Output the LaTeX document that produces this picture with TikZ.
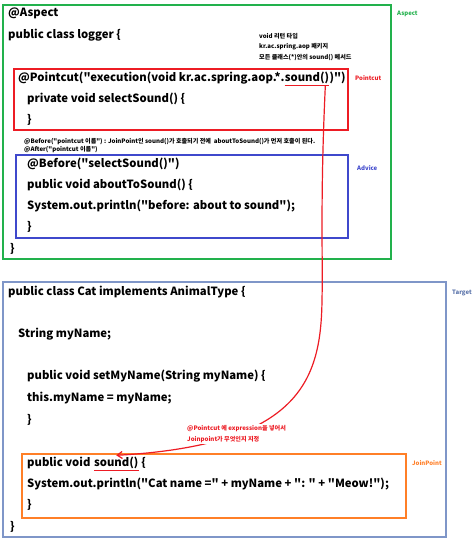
\documentclass[tikz,border=0pt]{standalone}
\usepackage{fontspec}
\usepackage{tikz}
\setmainfont{Noto Sans CJK KR}[Ligatures=TeXOff]
\usetikzlibrary{arrows.meta}
\definecolor{aopgreen}{RGB}{34, 177, 76}
\definecolor{aopred}{RGB}{237, 28, 36}
\definecolor{aopblue}{RGB}{63, 72, 204}
\definecolor{aopsteel}{RGB}{127, 150, 200}
\definecolor{aoptarget}{RGB}{90, 115, 170}
\definecolor{aoporange}{RGB}{255, 127, 39}
\tikzset{
  code/.style={anchor=west, inner sep=0pt, font=\fontsize{11.3}{13}\selectfont\bfseries},
  codenext/.style={code, anchor=base west},
  memo/.style={anchor=west, inner sep=0pt, font=\fontsize{6.1}{11}\selectfont\bfseries},
  tag/.style={anchor=west, inner sep=0pt, font=\fontsize{6}{7}\selectfont\bfseries},
  underl/.style={aopred, line width=0.9pt},
}

\begin{document}
\begin{tikzpicture}[x=1pt, y=-1pt]
\useasboundingbox[fill=white] (0,0) rectangle (474,541);

% Aspect class
\draw[aopgreen, line width=1.8pt] (3,5) rectangle (391,259);
\node[tag, aopgreen] (aspecttag) at (397,14) {Aspect};
\node[code] (aspect) at (8,13) {@Aspect};
\node[code] (logger) at (8,35) {public class logger \{};
\node[code] (logend) at (10,249) {\}};

% Notes on the expression
\node[memo] (noteret) at (259,36) {void 리턴 타입};
\node[memo] (notepkg) at (259,47) {kr.ac.spring.aop 패키지};
\node[memo] (notemeth) at (259,58) {모든 클래스(*)안의 sound() 메서드};

% Pointcut
\draw[aopred, line width=1.8pt] (14,69) rectangle (348,130);
\node[tag, aopred] (pointcuttag) at (355,78) {Pointcut};
\node[code] (pointcut) at (18,78) {@Pointcut("execution(void kr.ac.spring.aop.*.};
\node[codenext] (pcsound) at (pointcut.base east) {sound()};
\node[codenext] (pcrest) at (pcsound.base east) {)")};
\node[code] (select) at (27,99) {private void selectSound() \{};
\node[code] (selend) at (27,120) {\}};
\draw[underl] ([yshift=-4.3pt]pcsound.base west) -- ([yshift=-4.3pt]pcsound.base east);
\coordinate (pcfrom) at ([xshift=-4pt, yshift=-4.3pt]pcsound.base east);

% Advice
\node[memo] (notebefore) at (24,142) {@Before("pointcut 이름") : JoinPoint인 sound()가 호출되기 전에\ \ aboutToSound()가 먼저 호출이 된다.};
\node[memo] (noteafter) at (24,150) {@After("pointcut 이름")};
\draw[aopblue, line width=1.8pt] (16,155) rectangle (348,238);
\node[tag, aopblue] (advicetag) at (357,168) {Advice};
\node[code] (before) at (27,164) {@Before("selectSound()")};
\node[code] (about) at (27,185) {public void aboutToSound() \{};
\node[code] (println) at (27,206) {System.out.println("before: about to sound");};
\node[code] (aboutend) at (27,227) {\}};

% Target class
\draw[aopsteel, line width=1.3pt] (3,282) rectangle (446,537);
\node[tag, aoptarget] (targettag) at (452,293) {Target};
\node[code] (cat) at (8,292) {public class Cat implements AnimalType \{};
\node[code] (name) at (18,334) {String myName;};
\node[code] (setter) at (27,376) {public void setMyName(String myName) \{};
\node[code] (assign) at (27,398) {this.myName = myName;};
\node[code] (setend) at (27,420) {\}};
\node[code] (catend) at (10,527) {\}};

% JoinPoint
\draw[aoporange, line width=1.8pt] (22,454) rectangle (406,518);
\node[tag, aoporange] (jointag) at (412,463) {JoinPoint};
\node[code] (sound) at (27,463) {public void};
\node[codenext] (jpsound) at ([xshift=3.2pt]sound.base east) {sound()};
\node[codenext] (jprest) at (jpsound.base east) {\ \{};
\node[code] (meow) at (27,484) {System.out.println("Cat name =" + myName + ": " + "Meow!");};
\node[code] (soundend) at (27,505) {\}};
\draw[underl] ([yshift=-4.3pt]jpsound.base west) -- ([yshift=-4.3pt]jpsound.base east);

% Pointcut -> JoinPoint
\draw[aopred, line width=1.2pt, -{Straight Barb[length=5pt, width=7pt]}]
  (pcfrom) .. controls (320,200) and (323,260) .. (322,300)
  .. controls (321,380) and (300,445) .. ([yshift=1.5pt]jpsound.north);
\node[memo, aopred, fill=white, inner sep=1pt, align=left] (notejp) at (186,434)
  {@Pointcut 에 expression을 넣어서\\Joinpoint가 무엇인지 지정};
\end{tikzpicture}
\end{document}
